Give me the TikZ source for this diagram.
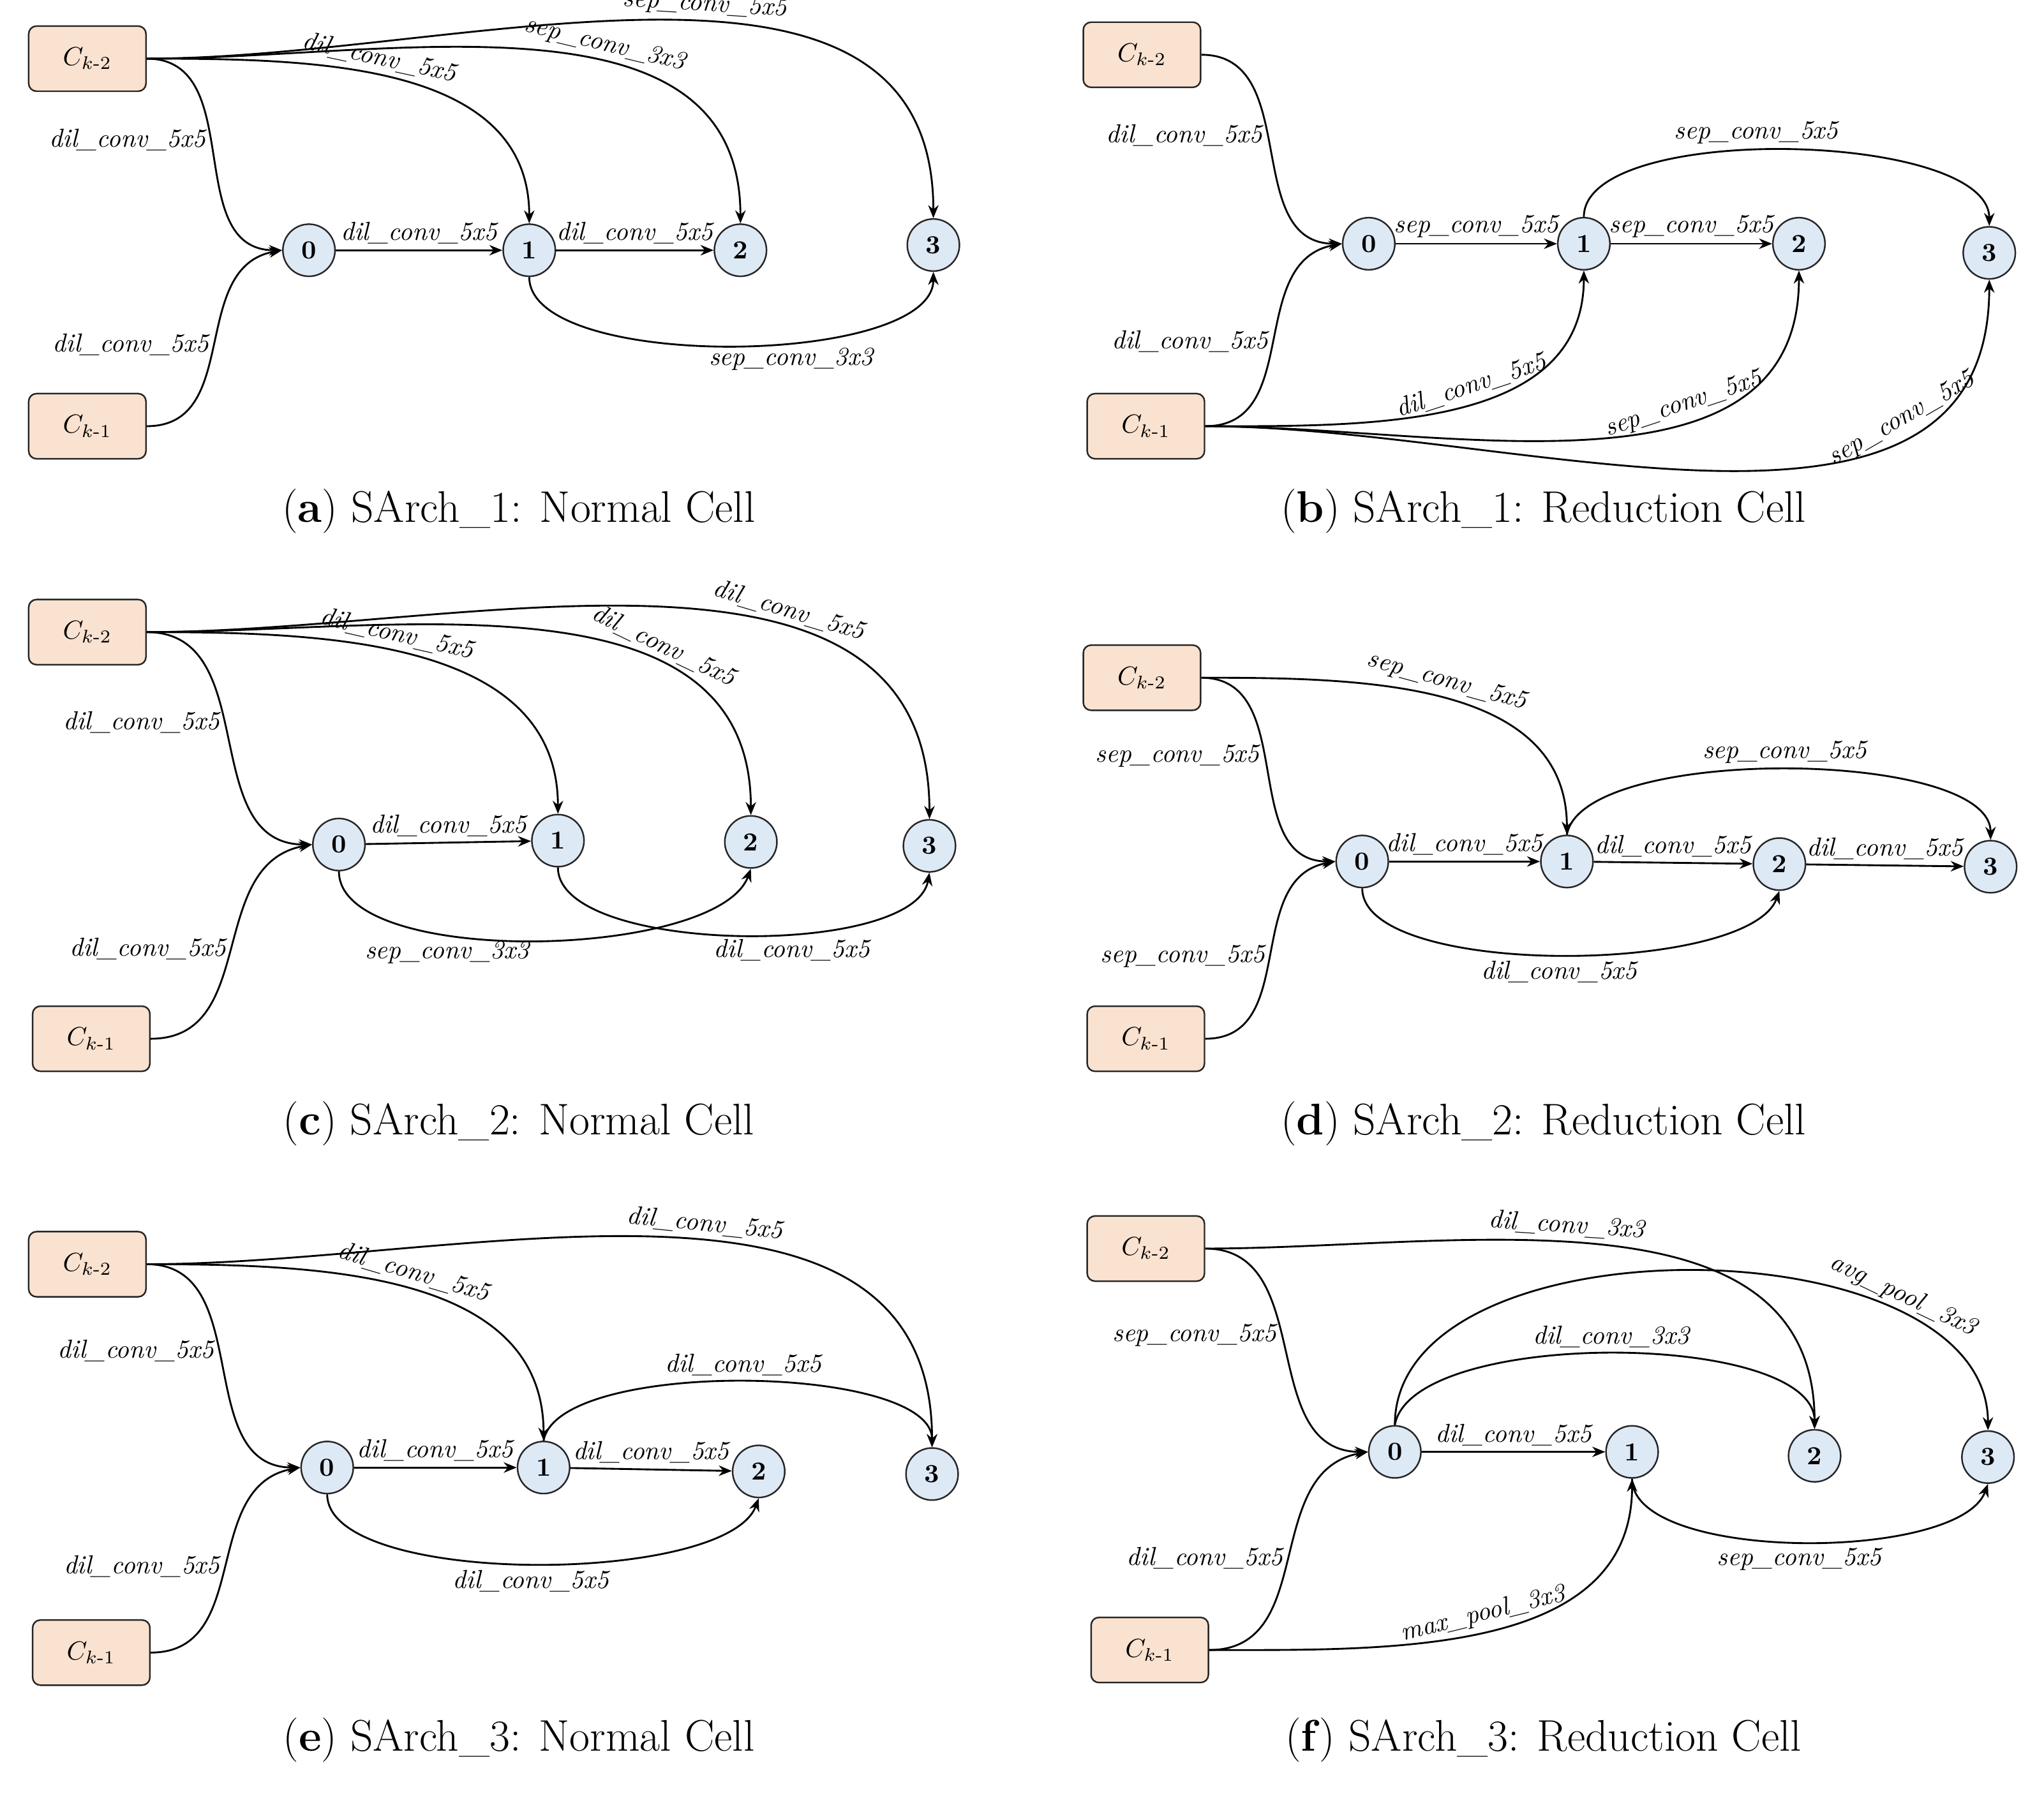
\documentclass[tikz,border=0pt]{standalone}
\usetikzlibrary{arrows.meta}
\newcommand{\ckm}[1]{$C_{k\mbox{\scriptsize -}#1}$}
\begin{document}
\begin{tikzpicture}[x=0.5pt,y=-0.5pt,
  box/.style={draw=black!85,fill={rgb,255:red,250;green,226;blue,208},rounded corners=3pt,minimum width=45pt,minimum height=25pt,line width=0.6pt},
  nd/.style={circle,draw=black!85,fill={rgb,255:red,222;green,233;blue,246},minimum size=20pt,inner sep=0pt,font=\bfseries,line width=0.6pt},
  e/.style={-{Stealth[length=5pt,width=4pt]},line width=0.7pt},
  lab/.style={font=\itshape,inner sep=2pt},
  capt/.style={font=\fontsize{17}{20}\selectfont}]
\useasboundingbox (0,0) rectangle (1568,1378);
% ---------- (a)
\node[box] (a2) at (67,45) {\ckm{2}};
\node[box] (a1) at (67,327) {\ckm{1}};
\node[nd] (a0n) at (237,192) {0};
\node[nd] (a1n) at (406,192) {1};
\node[nd] (a2n) at (568,192) {2};
\node[nd] (a3n) at (716,188) {3};
\draw[e] (a2.east) to[out=0,in=180,looseness=1.1] node[pos=0.45,left,lab]{dil\_conv\_5x5} (a0n.west);
\draw[e] (a1.east) to[out=0,in=190,looseness=1.1] node[pos=0.5,left,lab]{dil\_conv\_5x5} (a0n.west);
\draw[e] (a0n) -- node[above,lab]{dil\_conv\_5x5} (a1n);
\draw[e] (a1n) -- node[above,lab]{dil\_conv\_5x5} (a2n);
\draw[e] (a2.east) to[out=0,in=90] node[pos=0.45,above,sloped,lab]{dil\_conv\_5x5} (a1n.north);
\draw[e] (a2.east) to[out=0,in=90] node[pos=0.6,above,sloped,lab]{sep\_conv\_3x3} (a2n.north);
\draw[e] (a2.east) to[out=0,in=90] node[pos=0.55,above,sloped,lab]{sep\_conv\_5x5} (a3n.north);
\draw[e] (a1n.south) to[out=-90,in=-90,looseness=0.6] node[pos=0.6,below,lab]{sep\_conv\_3x3} (a3n.south);
\node[capt] (ca) at (398,392) {(\textbf{a}) SArch\_1: Normal Cell};
% ---------- (b)
\node[box] (b2) at (876,42) {\ckm{2}};
\node[box] (b1) at (879,327) {\ckm{1}};
\node[nd] (b0n) at (1050,187) {0};
\node[nd] (b1n) at (1215,187) {1};
\node[nd] (b2n) at (1380,187) {2};
\node[nd] (b3n) at (1526,194) {3};
\draw[e] (b2.east) to[out=0,in=180,looseness=1.1] node[pos=0.45,left,lab]{dil\_conv\_5x5} (b0n.west);
\draw[e] (b1.east) to[out=0,in=190,looseness=1.1] node[pos=0.5,left,lab]{dil\_conv\_5x5} (b0n.west);
\draw[e] (b0n) -- node[above,lab]{sep\_conv\_5x5} (b1n);
\draw[e] (b1n) -- node[above,lab]{sep\_conv\_5x5} (b2n);
\draw[e] (b1n.north) to[out=90,in=90,looseness=0.6] node[pos=0.45,above,lab]{sep\_conv\_5x5} (b3n.north);
\draw[e] (b1.east) to[out=0,in=-90] node[pos=0.55,above,sloped,lab]{dil\_conv\_5x5} (b1n.south);
\draw[e] (b1.east) to[out=0,in=-90] node[pos=0.65,above,sloped,lab]{sep\_conv\_5x5} (b2n.south);
\draw[e] (b1.east) to[out=0,in=-90] node[pos=0.75,above,sloped,lab]{sep\_conv\_5x5} (b3n.south);
\node[capt] (cb) at (1184,392) {(\textbf{b}) SArch\_1: Reduction Cell};
% ---------- (c)
\node[box] (c2) at (67,485) {\ckm{2}};
\node[box] (c1) at (70,797) {\ckm{1}};
\node[nd] (c0n) at (260,648) {0};
\node[nd] (c1n) at (428,645) {1};
\node[nd] (c2n) at (576,646) {2};
\node[nd] (c3n) at (713,649) {3};
\draw[e] (c2.east) to[out=0,in=180,looseness=1.1] node[pos=0.45,left,lab]{dil\_conv\_5x5} (c0n.west);
\draw[e] (c1.east) to[out=0,in=190,looseness=1.1] node[pos=0.5,left,lab]{dil\_conv\_5x5} (c0n.west);
\draw[e] (c0n) -- node[above,lab]{dil\_conv\_5x5} (c1n);
\draw[e] (c2.east) to[out=0,in=90] node[pos=0.45,above,sloped,lab]{dil\_conv\_5x5} (c1n.north);
\draw[e] (c2.east) to[out=0,in=90] node[pos=0.68,above,sloped,lab]{dil\_conv\_5x5} (c2n.north);
\draw[e] (c2.east) to[out=0,in=90] node[pos=0.65,above,sloped,lab]{dil\_conv\_5x5} (c3n.north);
\draw[e] (c0n.south) to[out=-90,in=-110,looseness=0.6] node[pos=0.35,below,lab]{sep\_conv\_3x3} (c2n.south);
\draw[e] (c1n.south) to[out=-90,in=-100,looseness=0.6] node[pos=0.6,below,lab]{dil\_conv\_5x5} (c3n.south);
\node[capt] (cc) at (398,862) {(\textbf{c}) SArch\_2: Normal Cell};
% ---------- (d)
\node[box] (d2) at (876,520) {\ckm{2}};
\node[box] (d1) at (879,797) {\ckm{1}};
\node[nd] (d0n) at (1045,661) {0};
\node[nd] (d1n) at (1202,661) {1};
\node[nd] (d2n) at (1365,663) {2};
\node[nd] (d3n) at (1527,665) {3};
\draw[e] (d2.east) to[out=0,in=180,looseness=1.1] node[pos=0.45,left,lab]{sep\_conv\_5x5} (d0n.west);
\draw[e] (d1.east) to[out=0,in=190,looseness=1.1] node[pos=0.5,left,lab]{sep\_conv\_5x5} (d0n.west);
\draw[e] (d0n) -- node[above,lab]{dil\_conv\_5x5} (d1n);
\draw[e] (d1n) -- node[above,lab]{dil\_conv\_5x5} (d2n);
\draw[e] (d2n) -- node[above,lab]{dil\_conv\_5x5} (d3n);
\draw[e] (d2.east) to[out=0,in=90] node[pos=0.5,above,sloped,lab]{sep\_conv\_5x5} (d1n.north);
\draw[e] (d1n.north) to[out=80,in=90,looseness=0.55] node[pos=0.5,above,lab]{sep\_conv\_5x5} (d3n.north);
\draw[e] (d0n.south) to[out=-90,in=-110,looseness=0.55] node[pos=0.5,below,lab]{dil\_conv\_5x5} (d2n.south);
\node[capt] (cd) at (1184,862) {(\textbf{d}) SArch\_2: Reduction Cell};
% ---------- (e)
\node[box] (e2) at (67,970) {\ckm{2}};
\node[box] (e1) at (70,1268) {\ckm{1}};
\node[nd] (e0n) at (251,1126) {0};
\node[nd] (e1n) at (417,1126) {1};
\node[nd] (e2n) at (582,1129) {2};
\node[nd] (e3n) at (715,1131) {3};
\draw[e] (e2.east) to[out=0,in=180,looseness=1.1] node[pos=0.45,left,lab]{dil\_conv\_5x5} (e0n.west);
\draw[e] (e1.east) to[out=0,in=190,looseness=1.1] node[pos=0.5,left,lab]{dil\_conv\_5x5} (e0n.west);
\draw[e] (e0n) -- node[above,lab]{dil\_conv\_5x5} (e1n);
\draw[e] (e1n) -- node[above,lab]{dil\_conv\_5x5} (e2n);
\draw[e] (e2.east) to[out=0,in=90] node[pos=0.5,above,sloped,lab]{dil\_conv\_5x5} (e1n.north);
\draw[e] (e2.east) to[out=0,in=90] node[pos=0.55,above,sloped,lab]{dil\_conv\_5x5} (e3n.north);
\draw[e] (e1n.north) to[out=80,in=90,looseness=0.55] node[pos=0.5,above,lab]{dil\_conv\_5x5} (e3n.north);
\draw[e] (e0n.south) to[out=-90,in=-110,looseness=0.55] node[pos=0.5,below,lab]{dil\_conv\_5x5} (e2n.south);
\node[capt] (ce) at (398,1335) {(\textbf{e}) SArch\_3: Normal Cell};
% ---------- (f)
\node[box] (f2) at (879,958) {\ckm{2}};
\node[box] (f1) at (882,1266) {\ckm{1}};
\node[nd] (f0n) at (1070,1114) {0};
\node[nd] (f1n) at (1252,1114) {1};
\node[nd] (f2n) at (1392,1117) {2};
\node[nd] (f3n) at (1525,1118) {3};
\draw[e] (f2.east) to[out=0,in=180,looseness=1.1] node[pos=0.45,left,lab]{sep\_conv\_5x5} (f0n.west);
\draw[e] (f1.east) to[out=0,in=190,looseness=1.1] node[pos=0.5,left,lab]{dil\_conv\_5x5} (f0n.west);
\draw[e] (f0n) -- node[above,lab]{dil\_conv\_5x5} (f1n);
\draw[e] (f2.east) to[out=0,in=90] node[pos=0.45,above,sloped,lab]{dil\_conv\_3x3} (f2n.north);
\draw[e] (f0n.north) to[out=80,in=90,looseness=0.6] node[pos=0.5,above,lab]{dil\_conv\_3x3} (f2n.north);
\draw[e] (f0n.north) to[out=90,in=90,looseness=0.9] node[pos=0.75,above,sloped,lab]{avg\_pool\_3x3} (f3n.north);
\draw[e] (f1n.south) to[out=-90,in=-110,looseness=0.6] node[pos=0.5,below,lab]{sep\_conv\_5x5} (f3n.south);
\draw[e] (f1.east) to[out=0,in=-90] node[pos=0.5,above,sloped,lab]{max\_pool\_3x3} (f1n.south);
\node[capt] (cf) at (1184,1335) {(\textbf{f}) SArch\_3: Reduction Cell};
\end{tikzpicture}
\end{document}
